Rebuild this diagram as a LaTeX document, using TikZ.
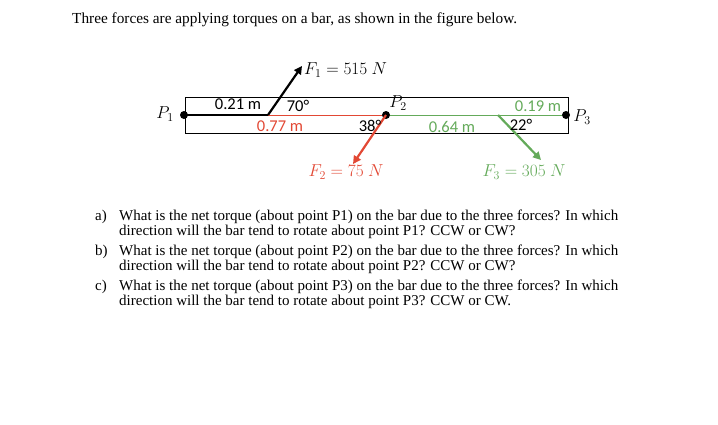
\documentclass[tikz,border=0pt]{standalone}
\usepackage{fontspec}
\setmainfont{Liberation Serif}
\newfontfamily\carlitofont{Carlito}
\usetikzlibrary{arrows.meta}
\definecolor{fred}{RGB}{226,72,52}
\definecolor{fgreen}{RGB}{100,170,90}
\begin{document}
\begin{tikzpicture}[x=1pt,y=-1pt,
  lbl/.style={font=\carlitofont\fontsize{16.5}{16}\selectfont,inner sep=0pt},
  mth/.style={font=\fontsize{17}{17}\selectfont,inner sep=0pt},
  q/.style={font=\fontsize{15}{14.5}\selectfont,inner sep=0pt,anchor=north west,align=left},
  ql/.style={font=\fontsize{15}{14.5}\selectfont,inner sep=0pt,anchor=north west},
  dot/.style={circle,fill=black,minimum size=8pt,inner sep=0pt},
  force/.style={line width=2.2pt,-{Triangle[length=8pt,width=8pt]}}]
\useasboundingbox (0,0) rectangle (718,424);
\node[font=\fontsize{15.3}{15}\selectfont,anchor=west,inner sep=0pt] (title) at (72,20) {Three forces are applying torques on a bar, as shown in the figure below.};
\draw[line width=0.9pt] (185,97) rectangle (568,133);
\node[dot] (p1) at (184,115) {};
\node[dot] (p2) at (386,115) {};
\node[dot] (p3) at (566,115) {};
\coordinate (a1) at (268,115);
\coordinate (a3) at (498,115);
\coordinate (t1) at (302,66);
\coordinate (t2) at (353,164);
\coordinate (t3) at (541,160);
\draw[fred,line width=1pt] (p1) -- (p2);
\draw[line width=1.2pt] (p1.center) -- (a1);
\draw[fgreen,line width=1pt] (p2) -- (p3);
\draw[force] (a1) -- (t1);
\draw[force,fred] (p2.center) -- (t2);
\draw[force,fgreen] (a3) -- (t3);
\node[mth] (lp1) at (165,114) {$P_1$};
\node[mth] (lp2) at (398,103) {$P_2$};
\node[mth] (lp3) at (582,117) {$P_3$};
\node[mth,anchor=west] (lf1) at (304,70) {$F_1=515\ N$};
\node[mth,fred] (lf2) at (346,172) {$F_2=75\ N$};
\node[mth,fgreen] (lf3) at (524,172) {$F_3=305\ N$};
\node[lbl] (d1) at (238,104) {0.21 m};
\node[lbl] (ang1) at (298,106) {70°};
\node[lbl,fred] (d2) at (280,126) {0.77 m};
\node[lbl] (ang2) at (370,126) {38°};
\node[lbl,fgreen] (d3) at (452,127) {0.64 m};
\node[lbl,fgreen] (d4) at (538,106) {0.19 m};
\node[lbl] (ang3) at (521,125) {22°};
\node[ql] (la) at (95,210) {a)};
\node[q] (qa) at (119,210) {What is the net torque (about point P1) on the bar due to the three forces? In which\\ direction will the bar tend to rotate about point P1? CCW or CW?};
\node[ql] (lb) at (95,245) {b)};
\node[q] (qb) at (119,245) {What is the net torque (about point P2) on the bar due to the three forces? In which\\ direction will the bar tend to rotate about point P2? CCW or CW?};
\node[ql] (lc) at (95,280) {c)};
\node[q] (qc) at (119,280) {What is the net torque (about point P3) on the bar due to the three forces? In which\\ direction will the bar tend to rotate about point P3? CCW or CW.};
\end{tikzpicture}
\end{document}
